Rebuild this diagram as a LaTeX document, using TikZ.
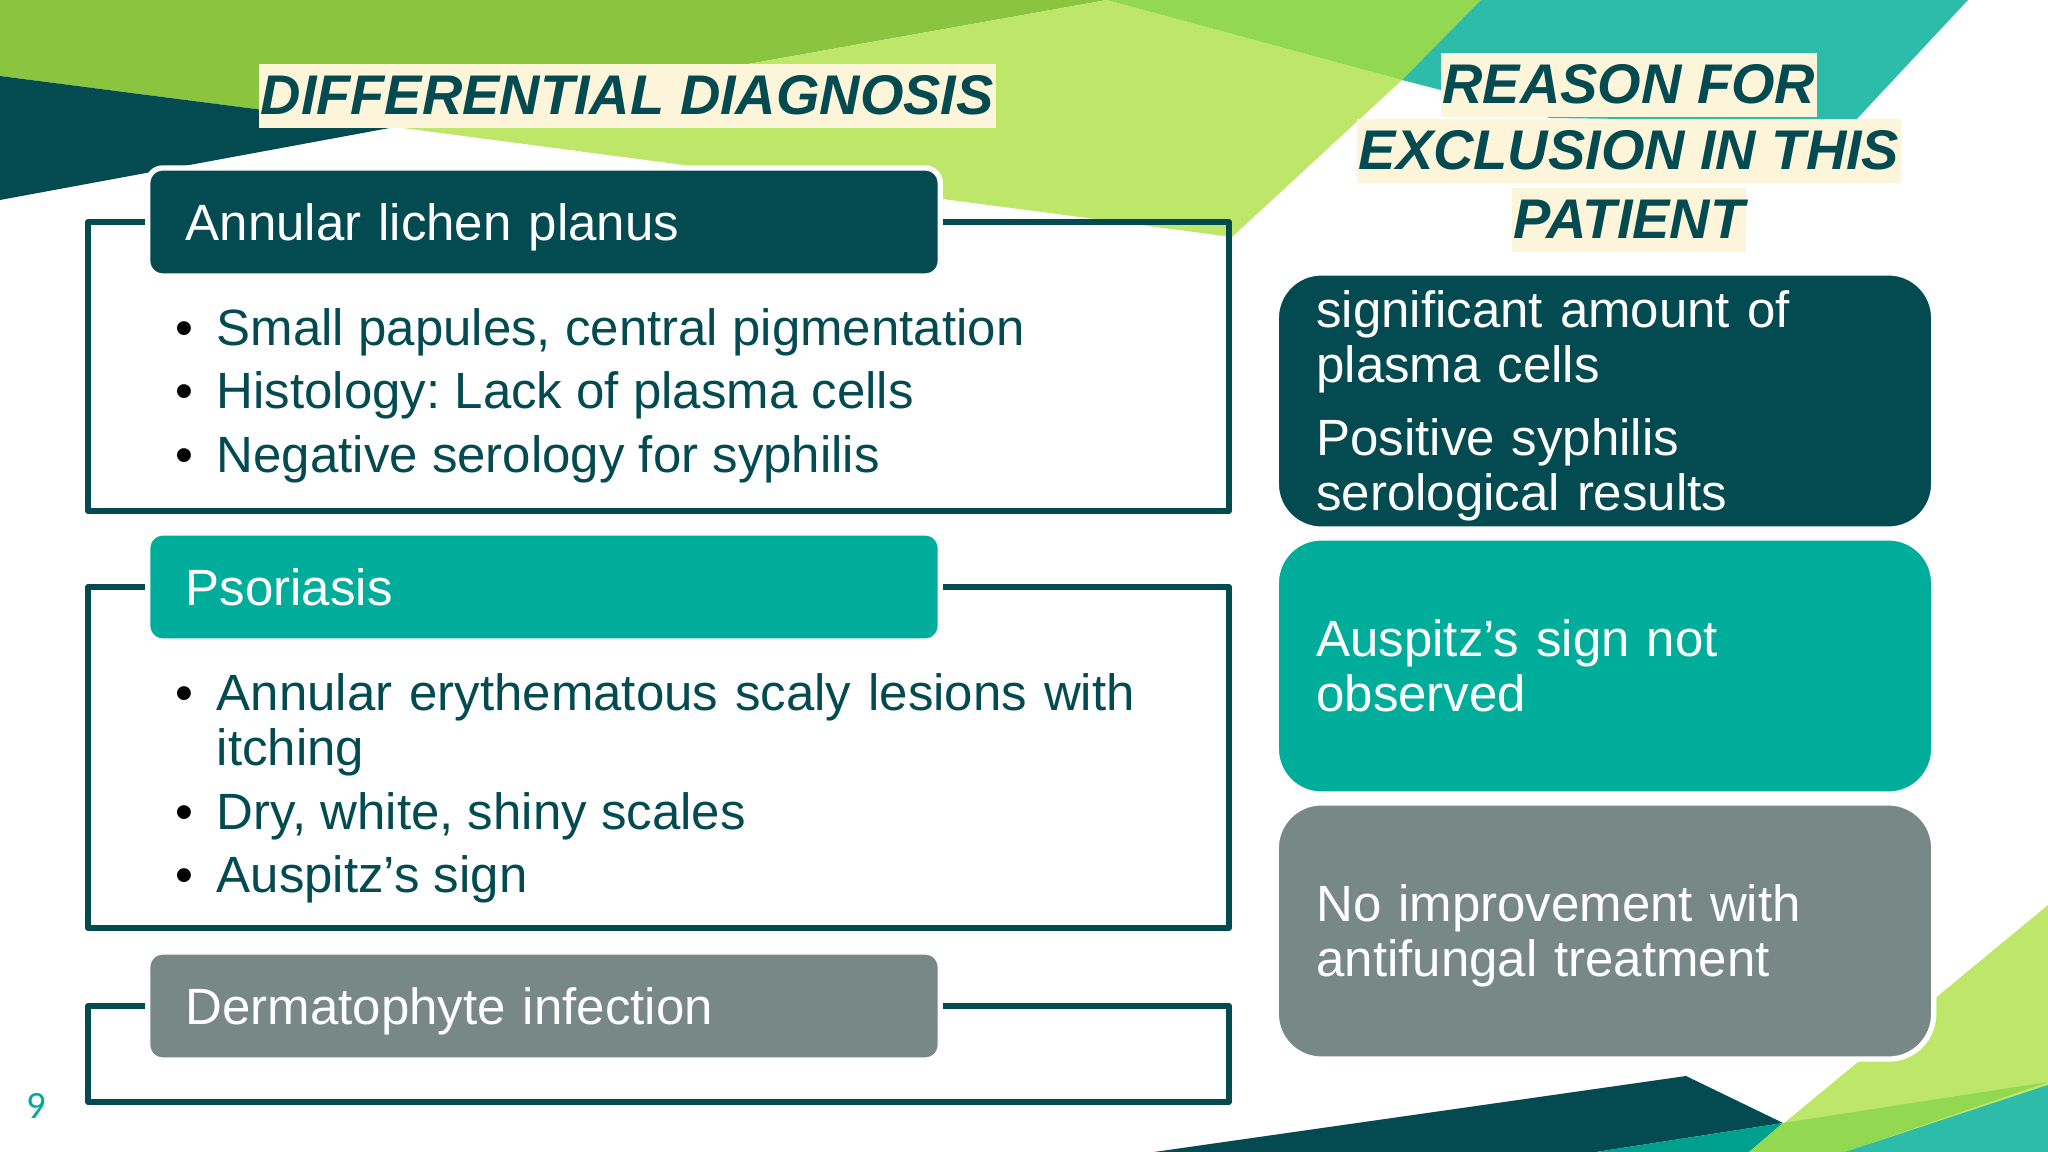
\documentclass[tikz,border=0pt]{standalone}
\usepackage{fontspec}
\setmainfont{Liberation Sans}
\newfontfamily\pagefont{Carlito}
\usetikzlibrary{positioning}
\frenchspacing

\definecolor{dkteal}{HTML}{034B51}
\definecolor{midteal}{HTML}{00AD9A}
\definecolor{slate}{HTML}{778886}
\definecolor{cream}{HTML}{FDF5D9}
\definecolor{leafgreen}{HTML}{8BC53F}
\definecolor{limegreen}{HTML}{BEE76A}
\definecolor{brightgreen}{HTML}{92D851}
\definecolor{seateal}{HTML}{2DBBAA}
\definecolor{deepteal}{HTML}{00A08F}
\definecolor{pagenum}{HTML}{00A99D}

\newcommand{\bodyfont}{\fontsize{14.5}{15.65}\selectfont}
\newcommand{\titlefont}{\fontsize{15.9}{19}\selectfont\bfseries\itshape}

\begin{document}
\begin{tikzpicture}[x=0.01cm,y=-0.01cm,line join=round,
  title/.style={fill=cream,text=dkteal,font=\titlefont,inner xsep=0.02cm,inner ysep=0pt,
    text height=0.51cm,text depth=0.13cm},
  hdr/.style={draw=white,line width=1.5pt,rounded corners=0.15cm,text=white,font=\bodyfont,
    minimum width=7.92cm,minimum height=1.08cm,text width=7.16cm,inner xsep=0.38cm,
    inner ysep=0pt,align=left,text height=0.365cm,text depth=0pt},
  rbox/.style={draw=white,line width=1.5pt,rounded corners=0.45cm,text=white,font=\bodyfont,
    minimum width=6.57cm,minimum height=2.56cm,text width=5.77cm,inner xsep=0.4cm,
    inner ysep=0pt,align=left,
    execute at begin node={\rule{0pt}{0.485cm}},
    execute at end node={\rule[-0.12cm]{0pt}{0pt}}},
  frame/.style={draw=dkteal,line width=1.5pt},
  bul/.style={anchor=base west,inner sep=0pt,font=\bodyfont,text=black},
  item/.style={anchor=base west,inner sep=0pt,font=\bodyfont,text=dkteal}]
\useasboundingbox (0,0) rectangle (2048,1152);

% background top
\fill[leafgreen] (0,0) -- (1107,0) -- (395,127) -- (0,76) -- cycle;
\fill[dkteal] (0,76) -- (395,127) -- (0,200) -- cycle;
\fill[limegreen] (395,127) -- (1107,0) -- (1402,80) -- (1232,237) -- cycle;
\fill[brightgreen] (1107,0) -- (1481,0) -- (1402,80) -- cycle;
\fill[seateal] (1481,0) -- (1968,0) -- (1854,122) -- (1550,118) -- (1402,80) -- cycle;

% background bottom
\fill[dkteal] (1154,1152) -- (1686,1076) -- (1783,1123) -- (1596,1152) -- cycle;
\fill[deepteal] (1596,1152) -- (1783,1123) -- (1749,1152) -- cycle;
\fill[limegreen] (1749,1152) -- (2048,905) -- (2048,1152) -- cycle;
\fill[brightgreen] (1783,1123) -- (2048,1082) -- (1845,1152) -- (1749,1152) -- cycle;
\fill[seateal] (1845,1152) -- (2048,1085) -- (2048,1152) -- cycle;

% titles
\node[title,anchor=base west] (t-dd) at (258,115) {DIFFERENTIAL DIAGNOSIS};
\node[title,anchor=base] (t-r1) at (1629,104) {REASON FOR};
\node[title,anchor=base] (t-r2) at (1629,170) {EXCLUSION IN THIS};
\node[title,anchor=base] (t-r3) at (1629,239) {PATIENT};

% left frames
\draw[frame] (88,222) rectangle (1229,511);
\draw[frame] (88,587) rectangle (1229,928);
\draw[frame] (88,1006) rectangle (1229,1102);

\node[hdr,fill=dkteal] (h-alp) at (544,222) {Annular lichen planus};
\node[hdr,fill=midteal] (h-pso) at (544,587) {Psoriasis};
\node[hdr,fill=slate] (h-der) at (544,1006) {Dermatophyte infection};

\foreach \y/\t [count=\i] in {346/{Small papules, central pigmentation},
    409/{Histology: Lack of plasma cells},473/{Negative serology for syphilis}}{
  \node[bul] (alp-b\i) at (175,\y) {•};
  \node[item] (alp-\i) at (216,\y) {\t};
}
\node[bul] (pso-b1) at (175,710) {•};
\node[item,text width=10cm,align=left] (pso-1) at (216,710) {Annular erythematous scaly lesions with\\itching};
\foreach \y/\t [count=\i from 2] in {829/{Dry, white, shiny scales},892/{Auspitz’s sign}}{
  \node[bul] (pso-b\i) at (175,\y) {•};
  \node[item] (pso-\i) at (216,\y) {\t};
}

% right column
\node[rbox,fill=dkteal] (r-alp) at (1605,401) {significant amount of\\plasma cells\\[0.18cm]Positive syphilis\\serological results};
\node[rbox,fill=midteal] (r-pso) at (1605,666) {Auspitz’s sign not\\observed};
\node[rbox,fill=slate] (r-der) at (1605,931) {No improvement with\\antifungal treatment};

\node[font=\pagefont\fontsize{11}{13}\selectfont,text=pagenum,anchor=base,inner sep=0pt] (pg) at (36,1118) {9};
\end{tikzpicture}
\end{document}
